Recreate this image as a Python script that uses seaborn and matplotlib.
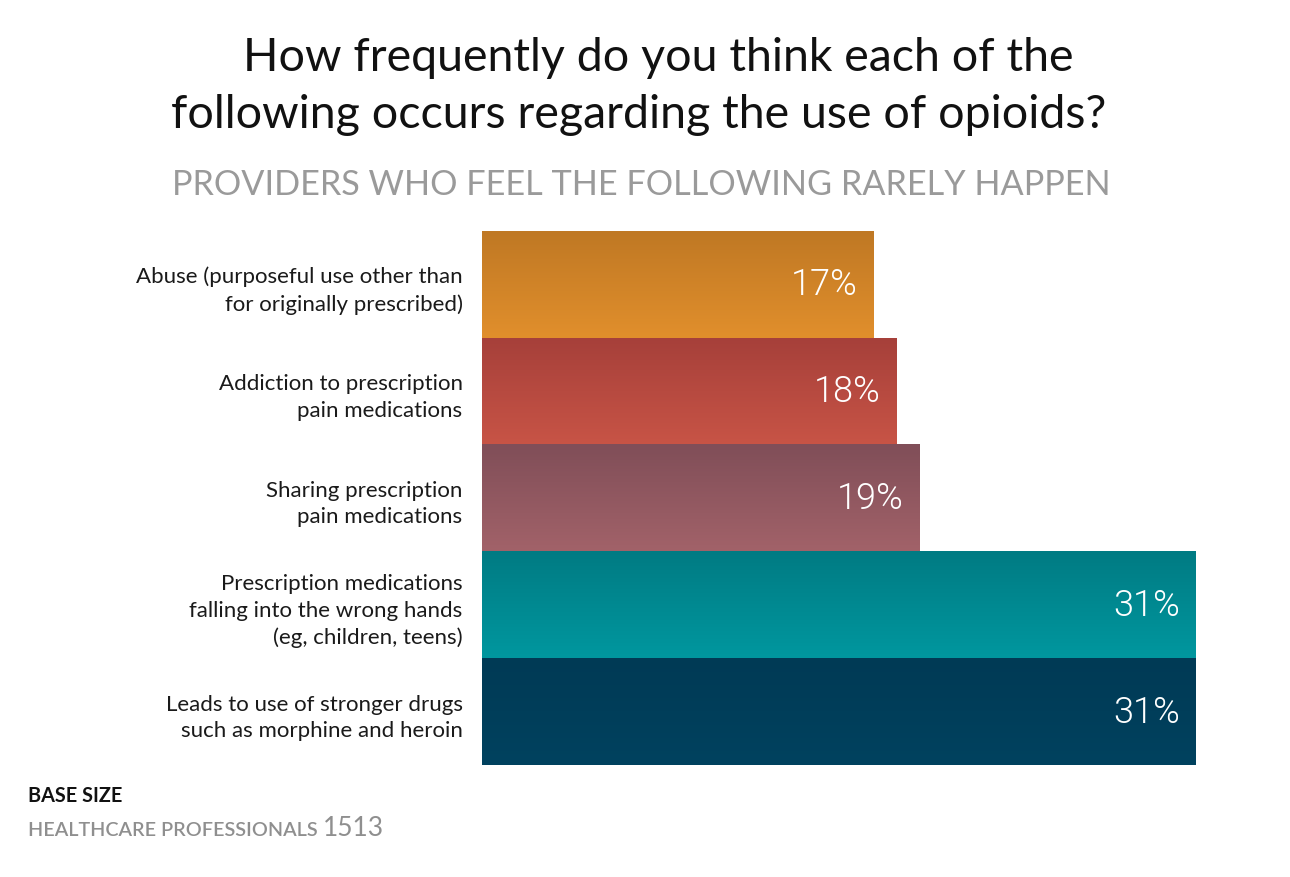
import matplotlib
matplotlib.use("Agg")
import matplotlib.pyplot as plt
import matplotlib.colors as mcolors
import numpy as np
import pandas as pd
import seaborn as sns

categories = [
    "Abuse (purposeful use other than\nfor originally prescribed)",
    "Addiction to prescription\npain medications",
    "Sharing prescription\npain medications",
    "Prescription medications\nfalling into the wrong hands\n(eg, children, teens)",
    "Leads to use of stronger drugs\nsuch as morphine and heroin",
]
values = [17, 18, 19, 31, 31]
value_labels = ["17%", "18%", "19%", "31%", "31%"]
# gradient (top, bottom) per bar
top_colors = ["#bf7824", "#a6403a", "#804e58", "#007b83", "#003a55"]
bottom_colors = ["#e18f2c", "#c85446", "#a26269", "#00979f", "#00425f"]

df = pd.DataFrame({"item": categories, "pct": values})

sns.set_theme(style="white")
plt.rcParams["font.family"] = ["Lato", "DejaVu Sans"]

fig = plt.figure(figsize=(12.9, 8.78), dpi=100)
ax = fig.add_axes([482 / 1290, 1 - 766 / 878, (1196 - 482) / 1290, (766 - 232) / 878])

sns.barplot(data=df, x="pct", y="item", orient="h", width=1.0,
            color="white", edgecolor="none", ax=ax)

# paint vertical gradients into each bar
for patch, c_top, c_bot in zip(ax.patches, top_colors, bottom_colors):
    x0, y0 = patch.get_x(), patch.get_y()
    w, h = patch.get_width(), patch.get_height()
    cmap = mcolors.LinearSegmentedColormap.from_list("g", [c_top, c_bot])
    grad = np.linspace(0, 1, 256).reshape(-1, 1)
    ax.imshow(grad, cmap=cmap, aspect="auto", interpolation="bicubic",
              extent=(x0, x0 + w, y0 + h, y0), zorder=2)

for i, (v, lab) in enumerate(zip(values, value_labels)):
    ax.text(v - 0.7, i, lab, color="white", fontsize=26, fontweight=300,
            family=["Roboto", "Lato", "DejaVu Sans"],
            ha="right", va="center", zorder=3)

ax.set_xlim(0, 31)
ax.set_ylim(4.5, -0.5)
ax.set_xlabel("")
ax.set_ylabel("")
ax.set_xticks([])
ax.tick_params(axis="y", length=0, pad=14, labelsize=16)
for t in ax.get_yticklabels():
    t.set_color("#1a1a1a")
    t.set_linespacing(1.4)
sns.despine(ax=ax, left=True, bottom=True)

fig.text(0.51, 1 - 58 / 878, "How frequently do you think each of the",
         ha="center", va="center", fontsize=33.5, color="#111111")
fig.text(0.495, 1 - 115 / 878, "following occurs regarding the use of opioids?",
         ha="center", va="center", fontsize=33.5, color="#111111")
fig.text(0.497, 1 - 185 / 878, "PROVIDERS WHO FEEL THE FOLLOWING RARELY HAPPEN",
         ha="center", va="center", fontsize=24.7, color="#9a9a9a")

fig.text(28 / 1290, 1 - 796 / 878, "BASE SIZE", ha="left", va="center",
         fontsize=14.3, fontweight="bold", color="#111111")
t1 = fig.text(28 / 1290, 1 - 830 / 878, "HEALTHCARE PROFESSIONALS ", ha="left",
              va="center", fontsize=14.2, fontweight="semibold", color="#8f8f8f")
fig.canvas.draw()
bb = t1.get_window_extent()
fig.text(bb.x1 / fig.bbox.width, 1 - 829 / 878, "1513", ha="left", va="center",
         fontsize=19, color="#8f8f8f")

fig.savefig("out.png", dpi=100)
